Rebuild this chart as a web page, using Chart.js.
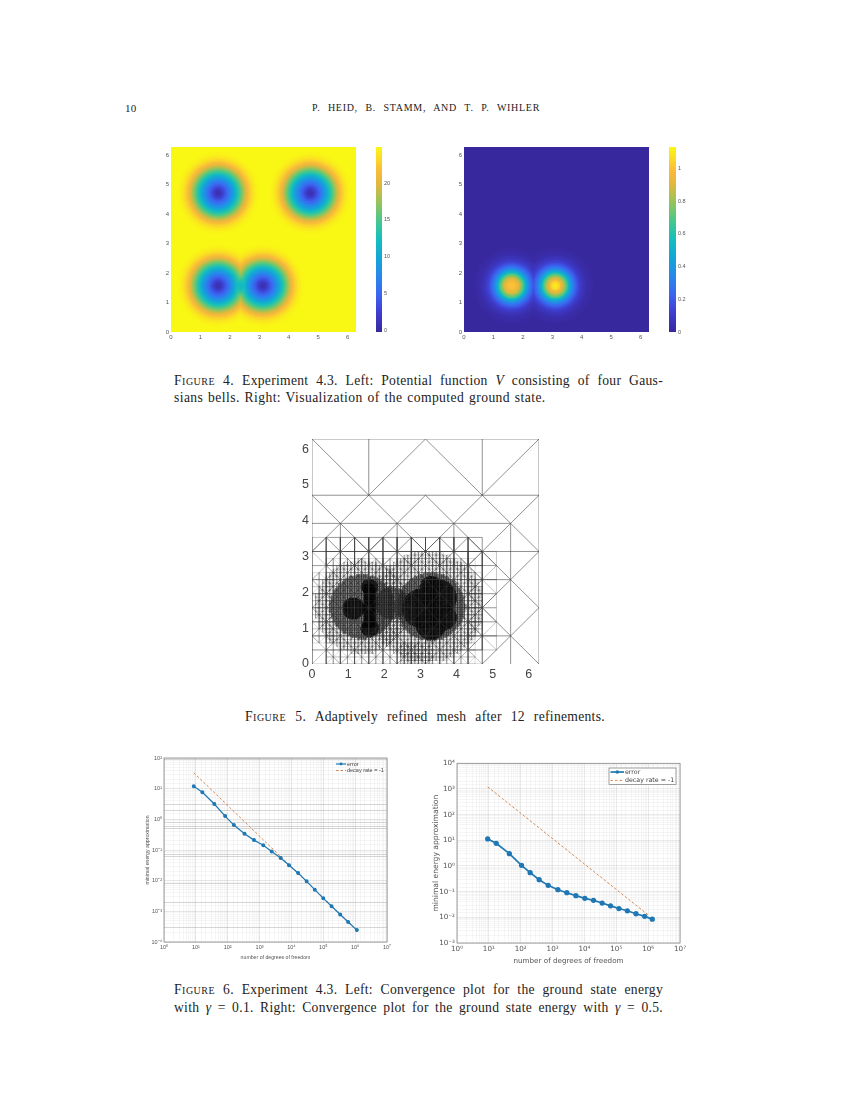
<!DOCTYPE html>
<html>
<head>
<meta charset="utf-8">
<title>Figures</title>
<script src="https://cdn.jsdelivr.net/npm/chart.js@4"></script>
<style>
  html, body { margin: 0; padding: 0; background: #fff; }
  #page { position: relative; width: 850px; height: 1100px; overflow: hidden; font-family: "Liberation Serif", serif; color: #222; }
  canvas { position: absolute; filter: blur(0.35px); }
  .line { position: absolute; white-space: nowrap; font-size: 13.6px; line-height: 16px; letter-spacing: 0.3px; }
  .fit { text-align: justify; text-align-last: justify; white-space: normal; }
  .sc { font-variant: small-caps; letter-spacing: 0.5px; }
</style>
</head>
<body>
<div id="page">
  <div class="line" style="left:125px;top:100px;font-size:11px">10</div>
  <div class="line fit" style="left:312px;top:100px;width:228px;font-size:10px;letter-spacing:0.7px">P. HEID, B. STAMM, AND T. P. WIHLER</div>
  <div class="line fit" style="left:174px;top:373px;width:489px"><span class="sc">Figure 4.</span> Experiment 4.3. Left: Potential function <i>V</i> consisting of four Gaus-</div>
  <div class="line" style="left:174px;top:390px;letter-spacing:0.42px;word-spacing:1px">sians bells. Right: Visualization of the computed ground state.</div>
  <div class="line fit" style="left:245px;top:709px;width:360px"><span class="sc">Figure 5.</span> Adaptively refined mesh after 12 refinements.</div>
  <div class="line fit" style="left:174px;top:982px;width:489px"><span class="sc">Figure 6.</span> Experiment 4.3. Left: Convergence plot for the ground state energy</div>
  <div class="line fit" style="left:174px;top:1000px;width:489px">with <i>γ</i> = 0.1. Right: Convergence plot for the ground state energy with <i>γ</i> = 0.5.</div>
</div>
<script>
// figure 4 left, potential wells
const wellX = [1.6, 4.73, 1.6, 3.12];
const wellY = [4.72, 4.72, 1.57, 1.57];
const saddleX = [2.36];
const saddleY = [1.57];
const wellLevels = [24.7, 24.3, 24, 23.5, 23, 22, 21, 20, 19, 18, 17, 16, 15, 14, 13, 12, 11, 10, 9, 8, 7, 6, 5, 4, 3, 2, 1];
const wellRadii = [1.4, 1.3, 1.25, 1.19, 1.15, 1.08, 1.02, 0.97, 0.93, 0.89, 0.85, 0.81, 0.77, 0.73, 0.69, 0.65, 0.61, 0.57, 0.53, 0.48, 0.43, 0.38, 0.33, 0.28, 0.22, 0.16, 0.09];
const saddleRadii = [0, 0, 0, 0, 0, 0, 0, 0, 0, 0, 0.38, 0.34, 0.3, 0.25, 0.2, 0.12, 0, 0, 0, 0, 0, 0, 0, 0, 0, 0, 0];

// figure 4 right, ground state bumps
const stateX = [1.62, 3.1];
const stateY = [1.57, 1.57];
const stateLevels = [0.01, 0.02, 0.03, 0.05, 0.07, 0.1, 0.13, 0.17, 0.21, 0.26, 0.31, 0.36, 0.42, 0.48, 0.54, 0.6, 0.66, 0.72, 0.78, 0.84, 0.9, 0.95, 1.0];
const stateRadii = [1.3, 1.2, 1.12, 1.04, 0.97, 0.9, 0.84, 0.78, 0.73, 0.68, 0.63, 0.59, 0.55, 0.51, 0.47, 0.44, 0.42, 0.39, 0.35, 0.31, 0.27, 0.21, 0.13];
const peakX = [3.1];
const peakY = [1.57];
const peakLevels = [1.03, 1.07, 1.1];
const peakRadii = [0.17, 0.12, 0.06];

// figure 5 mesh, coarse edges as from/to in units of pi/4
const coarseFrom = [[0,0],[8,0],[0,8], [0,8],[2,6],[4,8],[6,6],[2,6],[6,6],[0,6], [2,6],[0,6],[2,6],[4,6],[4,6],[6,6],[6,6],[8,6], [1,4],[3,4],[5,4],[7,0],[6,0],[0,5],[0,4], [8,4],[7,3],[8,2],[7,1], [6,4],[7,3],[6,2],[7,1], [6,3],[6,1]];
const coarseTo = [[0,8],[8,8],[8,8], [2,6],[4,8],[6,6],[8,8],[2,8],[6,8],[8,6], [0,4],[2,4],[4,4],[2,4],[6,4],[4,4],[8,4],[6,4], [1,5],[3,5],[5,5],[7,5],[6,4],[7,5],[8,4], [7,3],[8,2],[7,1],[8,0], [7,3],[6,2],[7,1],[6,0], [7,3],[7,1]];
// refined zones, level n has cell size pi / 2^(n+1)
const meshRectX0 = [0, 0.393, 4.712, 0.393, 0.196, 4.32, 2.55, 1.45];
const meshRectX1 = [4.712, 4.32, 5.105, 4.32, 0.393, 4.712, 3.3, 1.75];
const meshRectY0 = [0, 3.14, 0.785, 0, 0.6, 0.8, 0, 1.05];
const meshRectY1 = [3.142, 3.534, 2.749, 2.945, 2.55, 2.55, 0.5, 2.2];
const meshRectLevel = [2, 2, 2, 3, 3, 3, 4, 6];
const meshDiscX = [1.4, 3.2, 1.4, 3.3, 2.2, 3.05, 3.5, 3.3, 3.3, 3.65, 1.15, 1.6, 1.6];
const meshDiscY = [1.6, 1.6, 1.6, 1.6, 1.7, 1.55, 1.85, 1.1, 2.15, 1.3, 1.55, 2.15, 1.0];
const meshDiscR = [1.3, 1.55, 0.9, 0.95, 0.45, 0.55, 0.5, 0.42, 0.3, 0.35, 0.3, 0.22, 0.24];
const meshDiscLevel = [4, 4, 5, 5, 5, 6, 6, 6, 6, 6, 6, 6, 6];

// figure 6 left
const dofLeft = [8.6, 16, 38, 83, 156, 337, 666, 1310, 2400, 4600, 8400, 16200, 30000, 54000, 100000, 182000, 339000, 603000, 1130000];
const errorLeft = [11.9, 7.6, 3.16, 1.28, 0.65, 0.34, 0.21, 0.142, 0.09, 0.055, 0.032, 0.0178, 0.0095, 0.0051, 0.00265, 0.00146, 0.00079, 0.00045, 0.000245];
const decayLeftX = [8.6, 1130000];
const decayLeftY = [33, 0.000245];
const heavyLeftY = [90, 3, 2, 0.8, 0.6, 0.5, 0.07, 0.06, 0.008, 0.002, 0.0003];

// figure 6 right
const dofRight = [9.2, 17, 44, 106, 198, 379, 727, 1470, 2800, 5400, 10300, 19300, 36000, 66000, 121000, 222000, 415000, 777000, 1350000];
const errorRight = [11.3, 7.66, 3.03, 1.06, 0.55, 0.293, 0.176, 0.119, 0.091, 0.07, 0.055, 0.046, 0.036, 0.028, 0.022, 0.018, 0.0138, 0.0109, 0.0085];
const decayRightX = [9.2, 1040000];
const decayRightY = [1210, 0.012];

const seriesNames = ["error", "decay rate = -1"];

const parulaStops = [
  [0, 56, 40, 158], [0.1, 62, 60, 205], [0.2, 60, 100, 240], [0.3, 40, 135, 235],
  [0.4, 20, 165, 215], [0.5, 20, 190, 190], [0.6, 70, 200, 140], [0.7, 150, 195, 90],
  [0.8, 225, 185, 60], [0.87, 250, 185, 60], [0.93, 250, 215, 40], [1, 249, 248, 20],
];

function parula(t) {
  t = Math.max(0, Math.min(1, t));
  let i = 0;
  while (i < parulaStops.length - 2 && parulaStops[i + 1][0] < t) i++;
  const a = parulaStops[i], b = parulaStops[i + 1];
  const f = (t - a[0]) / (b[0] - a[0]);
  const mix = (k) => Math.round(a[k] + (b[k] - a[k]) * f);
  return `rgb(${mix(1)},${mix(2)},${mix(3)})`;
}

Chart.defaults.animation = false;
Chart.defaults.responsive = false;
Chart.defaults.events = [];
Chart.defaults.plugins.legend.display = false;
Chart.defaults.plugins.tooltip.enabled = false;

// paints the empty plot area and its outline
const areaPlugin = {
  id: "area",
  beforeDatasetsDraw(chart, args, opts) {
    if (!opts.fill) return;
    const a = chart.chartArea;
    chart.ctx.fillStyle = opts.fill;
    chart.ctx.fillRect(a.left, a.top, a.width, a.height);
  },
  afterDatasetsDraw(chart, args, opts) {
    if (!opts.stroke) return;
    const a = chart.chartArea;
    chart.ctx.strokeStyle = opts.stroke;
    chart.ctx.lineWidth = 0.8;
    chart.ctx.strokeRect(a.left, a.top, a.width, a.height);
  },
};

// small legend that sits inside the axes
const keyPlugin = {
  id: "key",
  afterDraw(chart, args, opts) {
    if (!opts.names) return;
    const ctx = chart.ctx, a = chart.chartArea;
    const x = a.right + opts.dx, y = a.top + opts.dy;
    ctx.save();
    if (opts.box) {
      ctx.fillStyle = "#fff";
      ctx.strokeStyle = "#777";
      ctx.lineWidth = 0.7;
      ctx.fillRect(x, y, opts.box[0], opts.box[1]);
      ctx.strokeRect(x, y, opts.box[0], opts.box[1]);
    }
    ctx.font = opts.font;
    ctx.textBaseline = "middle";
    ctx.fillStyle = "#444";
    opts.names.forEach((name, i) => {
      const ly = y + opts.rows[i];
      ctx.beginPath();
      ctx.moveTo(x + opts.line[0], ly);
      ctx.lineTo(x + opts.line[1], ly);
      ctx.lineWidth = i ? 0.9 : opts.width;
      ctx.strokeStyle = i ? "#d2783c" : "#1f78b4";
      ctx.setLineDash(i ? [2.5, 2] : []);
      ctx.stroke();
      ctx.setLineDash([]);
      if (!i) {
        ctx.fillStyle = "#1f78b4";
        ctx.beginPath();
        ctx.arc(x + (opts.line[0] + opts.line[1]) / 2, ly, opts.dot, 0, 7);
        ctx.fill();
        ctx.fillStyle = "#444";
      }
      ctx.fillText(name, x + opts.line[1] + 1, ly);
    });
    ctx.restore();
  },
};

Chart.register(areaPlugin, keyPlugin);

// canvas placed so that the plot area lands on the given page box
function addCanvas(box, m) {
  const c = document.createElement("canvas");
  c.width = box.right - box.left + m.left + m.right;
  c.height = box.bottom - box.top + m.top + m.bottom;
  c.style.left = box.left - m.left + "px";
  c.style.top = box.top - m.top + "px";
  document.getElementById("page").appendChild(c);
  return c;
}

function fixWidth(w) { return (s) => { s.width = w; }; }
function fixHeight(h) { return (s) => { s.height = h; }; }

const noGrid = { display: false, drawTicks: false };
const heatWidth = 185;
const domainMax = 6.283;

function ringSet(levels, radii, xs, ys, vmin, vmax) {
  return levels.map((level, i) => ({
    data: xs.map((x, k) => ({ x, y: ys[k] })),
    backgroundColor: parula((level - vmin) / (vmax - vmin)),
    borderWidth: 0,
    // radius read in axis units, bubbles want it in pixels
    radius: radii[i] * heatWidth / domainMax,
  }));
}

function heatChart(box, rings, baseColor) {
  const m = { left: 10, right: 10, top: 8, bottom: 12 };
  const tick = { color: "#555", font: { family: "Liberation Sans", size: 6 }, padding: 2, stepSize: 1, includeBounds: false };
  new Chart(addCanvas(box, m), {
    type: "bubble",
    // the library paints the first dataset last, so the outer rings go at the end
    data: { datasets: rings.slice().reverse() },
    options: {
      layout: { autoPadding: false, padding: { top: m.top, right: m.right } },
      plugins: { area: { fill: baseColor } },
      scales: {
        x: { type: "linear", min: 0, max: domainMax, grid: noGrid, border: { display: false }, ticks: tick, afterFit: fixHeight(m.bottom) },
        y: { type: "linear", min: 0, max: domainMax, grid: noGrid, border: { display: false }, ticks: tick, afterFit: fixWidth(m.left) },
      },
    },
  });
}

function colorBar(box, vmin, vmax, step) {
  const m = { left: 0, right: 16, top: 8, bottom: 8 };
  new Chart(addCanvas(box, m), {
    type: "bar",
    data: {
      labels: [""],
      datasets: [{
        data: [[vmin, vmax]],
        barPercentage: 1,
        categoryPercentage: 1,
        backgroundColor(ctx) {
          const a = ctx.chart.chartArea;
          if (!a) return "#888";
          const g = ctx.chart.ctx.createLinearGradient(0, a.bottom, 0, a.top);
          parulaStops.forEach((s) => g.addColorStop(s[0], `rgb(${s[1]},${s[2]},${s[3]})`));
          return g;
        },
      }],
    },
    options: {
      layout: { padding: { top: m.top, bottom: m.bottom } },
      scales: {
        x: { display: false },
        y: {
          position: "right", min: vmin, max: vmax,
          grid: noGrid, border: { display: false },
          ticks: { color: "#555", font: { family: "Liberation Sans", size: 5.5 }, padding: 2, stepSize: step, includeBounds: false, callback: (v) => Math.round(v * 10) / 10 },
          afterFit: fixWidth(m.right),
        },
      },
    },
  });
}

// one dataset per zone, each cell is the square plus its alternating diagonal
function meshCells(level, x0, x1, y0, y1, inside) {
  const h = Math.PI / Math.pow(2, level + 1);
  const pts = [];
  for (let i = Math.floor(x0 / h + 1e-6); i < Math.ceil(x1 / h - 1e-6); i++) {
    for (let j = Math.floor(y0 / h + 1e-6); j < Math.ceil(y1 / h - 1e-6); j++) {
      const a = i * h, b = j * h;
      if (inside && !inside(a + h / 2, b + h / 2)) continue;
      pts.push({ x: a, y: b }, { x: a + h, y: b }, { x: a + h, y: b + h }, { x: a, y: b + h }, { x: a, y: b });
      if ((i + j) % 2 === 0) pts.push({ x: a + h, y: b + h });
      else { pts.push({ x: null, y: null }, { x: a + h, y: b }, { x: a, y: b + h }); }
      pts.push({ x: null, y: null });
    }
  }
  return pts;
}

function meshStyle(level, data) {
  const colors = ["", "", "rgba(60,60,60,0.5)", "rgba(50,50,50,0.35)", "rgba(40,40,40,0.4)", "rgba(15,15,15,0.6)", "rgba(0,0,0,0.95)"];
  return {
    data,
    showLine: true,
    pointRadius: 0,
    spanGaps: false,
    borderColor: colors[level],
    borderWidth: level < 3 ? 0.6 : level < 5 ? 0.5 : 0.4,
  };
}

function meshChart(box) {
  const m = { left: 20, right: 10, top: 14, bottom: 18 };
  const tick = { color: "#444", font: { family: "Liberation Sans", size: 12.5 }, padding: 3, stepSize: 1, includeBounds: false };
  const u = Math.PI / 4;
  const coarse = [];
  coarseFrom.forEach((p, i) => {
    coarse.push({ x: p[0] * u, y: p[1] * u }, { x: coarseTo[i][0] * u, y: coarseTo[i][1] * u }, { x: null, y: null });
  });
  const datasets = [{ data: coarse, showLine: true, pointRadius: 0, spanGaps: false, borderColor: "rgba(60,60,60,0.7)", borderWidth: 0.8 }];
  meshRectLevel.forEach((level, i) => {
    datasets.push(meshStyle(level, meshCells(level, meshRectX0[i], meshRectX1[i], meshRectY0[i], meshRectY1[i])));
  });
  meshDiscLevel.forEach((level, i) => {
    const cx = meshDiscX[i], cy = meshDiscY[i], r = meshDiscR[i];
    const inside = (x, y) => (x - cx) * (x - cx) + (y - cy) * (y - cy) <= r * r;
    datasets.push(meshStyle(level, meshCells(level, cx - r, cx + r, Math.max(0, cy - r), cy + r, inside)));
  });
  new Chart(addCanvas(box, m), {
    type: "scatter",
    data: { datasets },
    options: {
      layout: { padding: { top: m.top, right: m.right } },
      scales: {
        x: { type: "linear", min: 0, max: domainMax, grid: noGrid, border: { display: false }, ticks: tick, afterFit: fixHeight(m.bottom) },
        y: { type: "linear", min: 0, max: domainMax, grid: noGrid, border: { display: false }, ticks: tick, afterFit: fixWidth(m.left) },
      },
    },
  });
}

const superDigits = { "-": "⁻", 0: "⁰", 1: "¹", 2: "²", 3: "³", 4: "⁴", 5: "⁵", 6: "⁶", 7: "⁷" };

function isDecade(v) {
  const l = Math.log10(v);
  return Math.abs(l - Math.round(l)) < 1e-6;
}

function decadeLabel(v) {
  if (!isDecade(v)) return "";
  return "10" + String(Math.round(Math.log10(v))).split("").map((c) => superDigits[c]).join("");
}

function logChart(box, m, look) {
  const near = (v) => (look.heavy || []).some((h) => Math.abs(v / h - 1) < 1e-3);
  const grid = {
    drawTicks: false,
    lineWidth: look.grid,
    color: (ctx) => (isDecade(ctx.tick.value) ? look.major : look.minor),
  };
  const gridY = { ...grid, color: (ctx) => (near(ctx.tick.value) ? look.heavyColor : isDecade(ctx.tick.value) ? look.major : look.minor) };
  const tick = { color: "#555", font: { family: look.family, size: look.tickSize }, padding: 2, autoSkip: false, maxRotation: 0, callback: decadeLabel };
  const title = (text, size) => ({ display: true, text, color: "#555", font: { family: look.family, size }, padding: 0 });
  new Chart(addCanvas(box, m), {
    type: "scatter",
    data: {
      datasets: [
        {
          label: seriesNames[0],
          data: look.xs.map((x, i) => ({ x, y: look.ys[i] })),
          showLine: true,
          borderColor: "#1f78b4",
          backgroundColor: "#1f78b4",
          borderWidth: look.lineWidth,
          pointRadius: look.dot,
        },
        {
          label: seriesNames[1],
          data: look.decayX.map((x, i) => ({ x, y: look.decayY[i] })),
          showLine: true,
          borderColor: "#d2783c",
          borderWidth: 0.9,
          borderDash: [2.5, 2],
          pointRadius: 0,
        },
      ],
    },
    options: {
      layout: { padding: { top: m.top, right: m.right } },
      plugins: {
        area: { stroke: look.frame },
        key: { names: seriesNames, ...look.key, width: look.lineWidth, dot: look.dot },
      },
      scales: {
        x: { type: "logarithmic", min: 1, max: 1e7, grid, border: { display: false }, ticks: tick, title: title("number of degrees of freedom", look.xTitle), afterFit: fixHeight(m.bottom) },
        y: { type: "logarithmic", min: look.ymin, max: look.ymax, grid: gridY, border: { display: false }, ticks: tick, title: title("minimal energy approximation", look.yTitle), afterFit: fixWidth(m.left) },
      },
    },
  });
}

heatChart({ left: 171, top: 147, right: 356, bottom: 332 },
  wellLevels.flatMap((level, i) => {
    const sets = ringSet([level], [wellRadii[i]], wellX, wellY, -0.2, 24.9);
    if (saddleRadii[i] > 0) sets.push(...ringSet([level], [saddleRadii[i]], saddleX, saddleY, -0.2, 24.9));
    return sets;
  }),
  parula(1));
colorBar({ left: 376, top: 147, right: 382, bottom: 332 }, -0.2, 24.9, 5);

heatChart({ left: 464, top: 147, right: 649, bottom: 332 },
  ringSet(stateLevels, stateRadii, stateX, stateY, 0, 1.13).concat(ringSet(peakLevels, peakRadii, peakX, peakY, 0, 1.13)),
  parula(0));
colorBar({ left: 669, top: 147, right: 676, bottom: 332 }, 0, 1.13, 0.2);

meshChart({ left: 312, top: 439, right: 539, bottom: 664 });

logChart({ left: 164, top: 758, right: 387, bottom: 942 }, { left: 20, right: 12, top: 6, bottom: 19 }, {
  xs: dofLeft, ys: errorLeft, decayX: decayLeftX, decayY: decayLeftY, ymin: 1e-4, ymax: 100,
  family: "Liberation Sans", tickSize: 5.5, xTitle: 5.2, yTitle: 5.2, lineWidth: 1.2, dot: 1.4, grid: 0.5,
  major: "rgba(0,0,0,0.2)", minor: "rgba(0,0,0,0.07)", heavy: heavyLeftY, heavyColor: "rgba(0,0,0,0.32)", frame: "#888",
  key: { dx: -51, dy: 0, rows: [6, 12.5], line: [0, 10], font: "5.5px 'Liberation Sans'" },
});

logChart({ left: 457, top: 763, right: 680, bottom: 943 }, { left: 26, right: 12, top: 6, bottom: 22 }, {
  xs: dofRight, ys: errorRight, decayX: decayRightX, decayY: decayRightY, ymin: 1e-3, ymax: 1e4,
  family: "DejaVu Sans", tickSize: 7.2, xTitle: 7.2, yTitle: 7.6, lineWidth: 1.7, dot: 1.8, grid: 0.5,
  major: "rgba(0,0,0,0.16)", minor: "rgba(0,0,0,0.07)", frame: "#888",
  key: { dx: -71, dy: 4.7, box: [67, 16.6], rows: [4, 12.4], line: [1.5, 15], font: "6.3px 'DejaVu Sans'" },
});
</script>
</body>
</html>
